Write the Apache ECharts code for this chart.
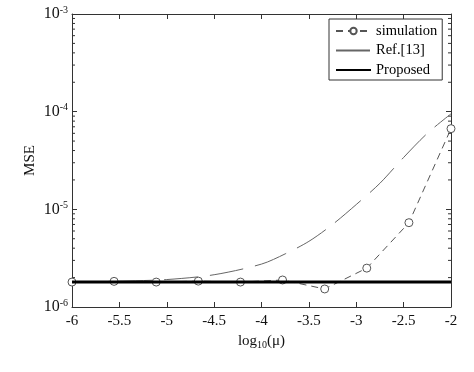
<!DOCTYPE html>
<html>
<head>
<meta charset="utf-8">
<script src="https://cdn.jsdelivr.net/npm/echarts@6/dist/echarts.min.js"></script>
<style>
html,body{margin:0;padding:0;background:#fff;}
#chart{width:474px;height:372px;}
</style>
</head>
<body>
<div id="chart"></div>
<script>
// ---- data ----
var simX = [-6, -5.556, -5.111, -4.667, -4.222, -3.778, -3.333, -2.889, -2.444, -2];
var simY = [1.8e-6, 1.83e-6, 1.8e-6, 1.84e-6, 1.8e-6, 1.89e-6, 1.53e-6, 2.5e-6, 7.3e-6, 6.7e-5];
var refX = [-6, -5.5, -5, -4.5, -4, -3.75, -3.5, -3.25, -3, -2.75, -2.5, -2.25, -2];
var refY = [1.79e-6, 1.84e-6, 1.91e-6, 2.14e-6, 2.75e-6, 3.5e-6, 4.7e-6, 7.0e-6, 1.12e-5, 1.85e-5, 3.4e-5, 6.0e-5, 9.5e-5];
var propX = [-6, -2];
var propY = [1.8e-6, 1.8e-6];
var xTicks = [-6, -5.5, -5, -4.5, -4, -3.5, -3, -2.5, -2];
var yMin = 1e-6, yMax = 1e-3;
var xMin = -6, xMax = -2;
var legendNames = ['simulation', 'Ref.[13]', 'Proposed'];

function zip(a, b) { return a.map(function (v, i) { return [v, b[i]]; }); }
// minor tick values for log axis
var minorVals = [];
for (var e = -6; e < -3; e++) for (var k = 2; k <= 9; k++) minorVals.push([xMin, k * Math.pow(10, e)]);

var FONT = 'Liberation Serif';
var AX = '#333';

var chart = echarts.init(document.getElementById('chart'));
chart.setOption({
  animation: false,
  backgroundColor: '#fff',
  textStyle: { fontFamily: FONT },
  grid: { left: 72, right: 23, top: 14, bottom: 65 },
  legend: {
    data: [
      { name: legendNames[0] },
      { name: legendNames[1], itemStyle: { opacity: 0 } },
      { name: legendNames[2], itemStyle: { opacity: 0 } }
    ],
    orient: 'vertical',
    left: 329, top: 19,
    padding: [4, 5, 2, 6],
    itemWidth: 35, itemHeight: 8, itemGap: 3.5,
    borderColor: '#333', borderWidth: 1,
    backgroundColor: '#fff',
    textStyle: { fontFamily: FONT, fontSize: 14.5, color: '#000', lineHeight: 16 }
  },
  xAxis: [{
    type: 'value', min: xMin, max: xMax, interval: 0.5, position: 'bottom',
    axisLine: { show: true, lineStyle: { color: AX } },
    axisTick: { inside: true, length: 5, lineStyle: { color: AX } },
    splitLine: { show: false },
    axisLabel: { fontFamily: FONT, fontSize: 15, color: '#111', margin: 7,
      formatter: function (v) { return xTicks.indexOf(v) >= 0 ? String(v) : ''; } },
    name: 'log{sub|10}(μ)', nameLocation: 'middle', nameGap: 25, nameMoveOverlap: false,
    nameTextStyle: { fontFamily: FONT, fontSize: 15, color: '#111',
      rich: { sub: { fontFamily: FONT, fontSize: 10, color: '#111', verticalAlign: 'bottom', padding: [8, 0, 0, 0] } } }
  }, {
    type: 'value', min: xMin, max: xMax, interval: 0.5, position: 'top',
    axisLine: { show: true, lineStyle: { color: AX } },
    axisTick: { inside: true, length: 5, lineStyle: { color: AX } },
    axisLabel: { show: false }, splitLine: { show: false }
  }],
  yAxis: [{
    type: 'log', logBase: 10, min: yMin, max: yMax, position: 'left',
    axisLine: { show: true, lineStyle: { color: AX } },
    axisTick: { inside: true, length: 5, lineStyle: { color: AX } },
    splitLine: { show: false },
    axisLabel: { margin: 4, color: '#111',
      formatter: function (v) { var ex = Math.round(Math.log10(v)); return '{b|10}{sup|' + ex + '}'; },
      rich: {
        b: { fontFamily: FONT, fontSize: 16, color: '#111', lineHeight: 18 },
        sup: { fontFamily: FONT, fontSize: 10, color: '#111', verticalAlign: 'top', lineHeight: 18, padding: [0, 0, 12, 0] }
      } },
    name: 'MSE', nameLocation: 'middle', nameGap: 34, nameRotate: 90, nameMoveOverlap: false,
    nameTextStyle: { fontFamily: FONT, fontSize: 15, color: '#111' }
  }, {
    type: 'log', logBase: 10, min: yMin, max: yMax, position: 'right',
    axisLine: { show: true, lineStyle: { color: AX } },
    axisTick: { inside: true, length: 5, lineStyle: { color: AX } },
    axisLabel: { show: false }, splitLine: { show: false }
  }],
  series: [{
    name: 'simulation', type: 'line', data: zip(simX, simY),
    symbol: 'circle', symbolSize: 8, showSymbol: true,
    itemStyle: { color: '#fff', borderColor: '#555', borderWidth: 1 },
    lineStyle: { color: '#555', width: 1, type: [7, 5] },
    z: 3
  }, {
    name: 'Ref.[13]', type: 'line', data: zip(refX, refY), smooth: 0.3,
    symbol: 'none',
    itemStyle: { color: '#666' },
    lineStyle: { color: '#666', width: 1, type: [34, 12] },
    z: 2
  }, {
    name: 'Proposed', type: 'line', data: zip(propX, propY),
    symbol: 'none',
    itemStyle: { color: '#000' },
    lineStyle: { color: '#000', width: 3 },
    z: 4
  }, {
    name: 'minorTicks', type: 'custom', data: minorVals, silent: true, clip: false,
    renderItem: function (params, api) {
      var pl = api.coord([xMin, api.value(1)]);
      var pr = api.coord([xMax, api.value(1)]);
      return { type: 'group', children: [
        { type: 'line', shape: { x1: pl[0], y1: pl[1], x2: pl[0] + 3, y2: pl[1] }, style: { stroke: AX, lineWidth: 1 } },
        { type: 'line', shape: { x1: pr[0], y1: pr[1], x2: pr[0] - 3, y2: pr[1] }, style: { stroke: AX, lineWidth: 1 } }
      ] };
    }
  }]
});
</script>
</body>
</html>
